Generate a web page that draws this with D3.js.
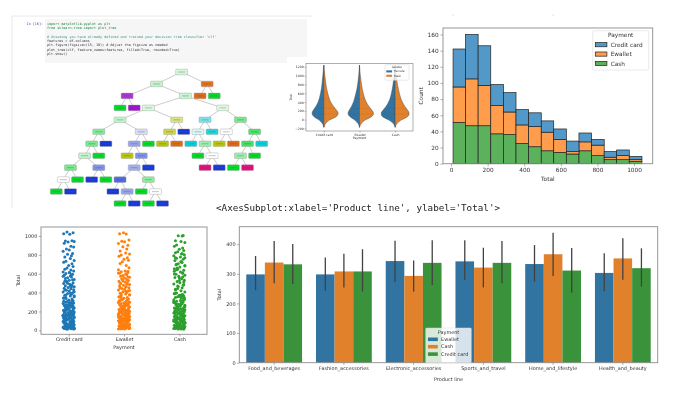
<!DOCTYPE html>
<html lang="en">
<head>
<meta charset="UTF-8">
<title>Supermarket sales plots</title>
<script src="https://cdn.jsdelivr.net/npm/d3@7"></script>
<style>
    html, body { margin: 0; padding: 0; background: #fff; }
    svg { display: block; filter: blur(0.55px); font-family: "DejaVu Sans", sans-serif; }
    .code { font-family: "DejaVu Sans Mono", monospace; }
    .domain { display: none; }
</style>
</head>
<body>
<div id="grafica"></div>
<script>
// notebook cell
const codeLines = [
    "import matplotlib.pyplot as plt",
    "from sklearn.tree import plot_tree",
    "",
    "# Assuming you have already defined and trained your decision tree classifier 'clf'",
    "features = df.columns",
    "plt.figure(figsize=(15, 10))  # Adjust the figsize as needed",
    "plot_tree(clf, feature_names=features, filled=True, rounded=True)",
    "plt.show()"
]
const outputLine = "<AxesSubplot:xlabel='Product line', ylabel='Total'>"

// decision tree
const treeParent = [-1, 0, 0, 1, 1, 2, 2, 3, 3, 4, 4, 9, 9, 10, 10, 11, 11, 12, 12, 13, 13, 14, 14, 15, 15, 16, 16, 17, 17, 19, 19, 21, 21, 22, 22, 23, 23, 25, 25, 30, 30, 33, 33, 35, 35, 38, 38, 40, 40, 41, 41, 43, 43, 44, 44, 45, 45, 51, 51, 55, 55, 56, 56, 60, 60, 62, 62]
const treeDepth = [0, 1, 1, 2, 2, 2, 2, 3, 3, 3, 3, 4, 4, 4, 4, 5, 5, 5, 5, 5, 5, 5, 5, 6, 6, 6, 6, 6, 6, 6, 6, 6, 6, 6, 6, 7, 7, 7, 7, 7, 7, 7, 7, 8, 8, 8, 8, 8, 8, 8, 8, 9, 9, 9, 9, 9, 9, 10, 10, 10, 10, 10, 10, 11, 11, 11, 11]
const treeOrder = [17.7, 14.15, 21.3, 10, 18.25, 20.3, 22.3, 9, 11, 13, 23.5, 9, 17, 21, 26, 6, 12, 16, 18, 20, 22, 24, 28, 5, 7, 11, 13, 15, 17, 19, 21, 23, 25, 27, 29, 4, 6, 10, 12, 20, 22, 26, 28, 2, 6, 11, 13, 21, 23, 25, 27, 1, 3, 5, 7, 9, 13, 0, 2, 8, 10, 12, 14, 9, 11, 13, 15]
const treeClass = ["g", "g", "o", "p", "g", "o", "g", "g", "p", "g", "g", "g", "y", "c", "g", "g", "b", "y", "b", "c", "c", "g", "g", "g", "b", "b", "g", "y", "o", "c", "g", "y", "o", "g", "c", "g", "g", "y", "b", "g", "g", "g", "g", "g", "b", "b", "b", "k", "b", "g", "k", "g", "g", "b", "g", "b", "g", "g", "b", "b", "b", "g", "g", "g", "b", "g", "b"]
const treePurity = [0.17, 0.25, 0.95, 0.85, 0.22, 1, 1, 1, 1, 0.15, 0.12, 0.25, 0.5, 0.55, 0.55, 0.5, 0.17, 0.72, 1, 0.15, 0.9, 0, 0.72, 0.55, 1, 0.45, 1, 1, 1, 1, 0.4, 1, 1, 0.75, 1, 0.25, 1, 1, 0.55, 1, 0, 0.4, 1, 0.55, 0.55, 0.4, 1, 1, 1, 1, 1, 0, 1, 1, 1, 0.75, 0.45, 1, 1, 1, 0.45, 1, 0, 1, 1, 1, 1]

// violin plot, density is relative to the widest side
const violinGenders = ["Female", "Male"]
const violinPayments = ["Credit card", "Ewallet", "Cash"]
const violinLevels = [-175, -100, 0, 50, 100, 150, 200, 300, 400, 500, 600, 700, 800, 900, 1000, 1100, 1200, 1240]
const creditFemale = [0, 0.08, 0.38, 0.62, 0.78, 0.82, 0.76, 0.56, 0.4, 0.3, 0.23, 0.17, 0.13, 0.1, 0.07, 0.04, 0.015, 0]
const creditMale = [0, 0.1, 0.45, 0.78, 0.96, 1, 0.92, 0.68, 0.48, 0.36, 0.27, 0.2, 0.15, 0.11, 0.07, 0.03, 0.01, 0]
const ewalletFemale = [0, 0.08, 0.38, 0.6, 0.76, 0.8, 0.74, 0.56, 0.42, 0.33, 0.25, 0.18, 0.13, 0.09, 0.06, 0.03, 0.01, 0]
const ewalletMale = [0, 0.1, 0.45, 0.76, 0.94, 0.98, 0.9, 0.66, 0.47, 0.35, 0.26, 0.19, 0.14, 0.1, 0.06, 0.03, 0.01, 0]
const cashFemale = [0, 0.1, 0.5, 0.8, 0.96, 0.97, 0.88, 0.64, 0.46, 0.34, 0.26, 0.2, 0.15, 0.11, 0.07, 0.03, 0, 0]
const cashMale = [0, 0.1, 0.48, 0.78, 0.95, 0.97, 0.9, 0.68, 0.5, 0.38, 0.29, 0.22, 0.16, 0.11, 0.06, 0.02, 0, 0]
const violinQuartiles = [125, 255, 470]

// stacked histogram
const histPayments = ["Credit card", "Ewallet", "Cash"]
const binEdges = [11, 79, 148, 217, 286, 355, 424, 493, 561, 630, 699, 768, 837, 905, 974, 1043]
const histCash = [51, 47, 47, 37, 36, 25, 21, 16, 14, 12, 16, 10, 5, 5, 3]
const histEwallet = [44, 58, 50, 35, 28, 23, 25, 23, 16, 3, 11, 13, 3, 5, 2]
const histCredit = [47, 55, 49, 26, 24, 19, 17, 14, 13, 13, 11, 7, 7, 7, 4]

// strip plot
const stripPayments = ["Credit card", "Ewallet", "Cash"]
const stripCredit = [1042, 1034, 1023, 1018, 950, 946, 941, 936, 922, 890, 884, 862, 851, 838, 815, 806, 790, 776, 762, 740, 731, 722, 705, 688, 676, 661, 648, 640, 628, 617, 610, 601, 593, 585, 577, 566, 558, 549, 540, 532, 521, 513, 505, 497, 488, 481, 472, 463, 455, 447, 440, 431, 424, 416, 407, 399, 391, 383, 372, 365, 356, 348, 340, 331, 322, 314, 306, 299, 295, 290, 284, 279, 272, 268, 262, 257, 251, 246, 241, 236, 231, 226, 221, 216, 212, 207, 202, 198, 193, 188, 183, 179, 175, 170, 165, 161, 157, 152, 148, 144, 139, 135, 131, 127, 122, 118, 114, 110, 105, 101, 97, 93, 88, 84, 80, 76, 72, 68, 64, 60, 56, 52, 48, 44, 41, 38, 35, 32, 29, 26, 23, 20, 18, 15, 13, 612, 574, 536, 498, 462, 428, 394, 366, 338, 308, 286, 263, 244, 224, 205, 186, 168, 150, 133, 116, 99, 82, 66, 50, 36, 24, 16, 296, 272, 248, 228, 210, 192, 174, 156, 140, 124, 108, 92, 78, 62, 46, 30, 21, 14, 590, 520, 470, 410, 375, 345, 318, 280, 255, 234, 215, 196, 178, 160, 142, 126, 112, 96, 70, 54, 42, 28, 19]
const stripEwallet = [1034, 1024, 1021, 958, 945, 938, 921, 902, 885, 862, 842, 820, 808, 798, 784, 768, 752, 742, 728, 708, 688, 664, 642, 630, 621, 612, 604, 596, 588, 581, 572, 563, 555, 546, 538, 529, 520, 512, 504, 495, 486, 478, 469, 461, 452, 444, 435, 427, 418, 409, 400, 392, 384, 374, 366, 357, 349, 340, 332, 324, 316, 308, 300, 295, 290, 285, 279, 274, 269, 263, 258, 252, 247, 242, 237, 232, 227, 222, 218, 213, 208, 203, 199, 194, 189, 184, 180, 175, 171, 166, 162, 157, 153, 148, 144, 140, 135, 131, 126, 122, 118, 113, 109, 105, 101, 97, 92, 88, 84, 80, 76, 72, 68, 64, 60, 56, 52, 49, 45, 42, 39, 36, 32, 29, 26, 23, 20, 17, 14, 608, 566, 524, 488, 450, 414, 378, 344, 312, 283, 256, 234, 216, 196, 178, 159, 142, 124, 108, 90, 74, 58, 44, 30, 18, 298, 276, 250, 226, 204, 186, 168, 150, 134, 116, 100, 86, 70, 54, 38, 24, 15, 626, 578, 540, 500, 458, 422, 386, 352, 322, 292, 266, 240, 220, 200, 182, 164, 146, 128, 112, 94, 78, 62, 47, 34, 21]
const stripCash = [1006, 1002, 1000, 950, 942, 930, 905, 892, 872, 858, 846, 834, 822, 810, 800, 790, 778, 765, 752, 740, 730, 718, 706, 694, 683, 672, 660, 648, 636, 626, 617, 606, 594, 583, 572, 560, 546, 532, 518, 505, 492, 478, 464, 450, 436, 420, 406, 396, 388, 380, 372, 364, 356, 348, 340, 332, 324, 316, 308, 300, 294, 288, 282, 276, 271, 265, 259, 253, 248, 243, 237, 232, 227, 222, 217, 212, 207, 202, 197, 192, 188, 183, 178, 173, 169, 164, 160, 155, 150, 146, 142, 137, 133, 128, 124, 120, 115, 111, 107, 103, 99, 95, 91, 87, 83, 79, 75, 71, 67, 63, 59, 55, 51, 48, 44, 40, 37, 34, 31, 28, 25, 22, 19, 16, 13, 815, 768, 724, 688, 642, 598, 566, 528, 486, 442, 392, 360, 328, 296, 268, 240, 214, 190, 171, 148, 126, 105, 85, 65, 46, 30, 17, 390, 352, 310, 278, 250, 224, 200, 176, 156, 135, 118, 97, 77, 57, 36, 20, 14, 768, 700, 652, 610, 554, 512, 470, 428, 376, 344, 304, 262, 235, 210, 186, 162, 144, 122, 101, 81, 61, 42, 26, 15]
const stripJitter = [-0.03, 0.08, -0.09, 0.02, 0.06, -0.06, 0.1, -0.01, -0.08, 0.04, 0.09, -0.04, 0.01, -0.1, 0.07, -0.02, 0.05, -0.07, 0.03, 0.1, -0.05, -0.09, 0.06, 0, 0.08, -0.03, -0.07, 0.04, 0.09, -0.1, 0.02, -0.05, 0.07, -0.08, 0.03, 0.05, -0.02, -0.06, 0.1, 0.01, -0.04]

// grouped bars
const productLines = ["Food_and_beverages", "Fashion_accessories", "Electronic_accessories", "Sports_and_travel", "Home_and_lifestyle", "Health_and_beauty"]
const barPayments = ["Ewallet", "Cash", "Credit card"]
const barEwallet = [298, 298, 343, 342, 333, 303]
const barCash = [338, 308, 293, 321, 366, 352]
const barCredit = [332, 308, 337, 337, 311, 319]
const errEwalletLow = [245, 243, 272, 279, 273, 241]
const errEwalletHigh = [360, 355, 412, 413, 397, 369]
const errCashLow = [268, 254, 240, 254, 293, 280]
const errCashHigh = [411, 368, 345, 388, 439, 420]
const errCreditLow = [266, 240, 262, 268, 236, 257]
const errCreditHigh = [401, 383, 413, 411, 387, 386]

const seabornBlue = "#3274a1", seabornOrange = "#e1812c", seabornGreen = "#3a923a"
const classColors = { g: "#00dc28", o: "#e26a14", p: "#a010d0", y: "#b8c800", c: "#00d2dc", b: "#1638d8", k: "#e0107a" }

const svg = d3.select("#grafica").append("svg").attr("width", 680).attr("height", 395)
svg.append("rect").attr("width", 680).attr("height", 395).attr("fill", "#fff")

function spines(g, b) {
    g.append("rect").attr("x", b.left).attr("y", b.top)
        .attr("width", b.right - b.left).attr("height", b.bottom - b.top)
        .attr("fill", "none").attr("stroke", "#8c8c8c").attr("stroke-width", b.line || 0.9)
}

function styleAxis(sel, size) {
    sel.selectAll("text").attr("font-size", size).attr("fill", "#333").attr("font-family", "DejaVu Sans")
    sel.selectAll("line").attr("stroke", "#666").attr("stroke-width", 0.5)
}

function drawAxes(g, b, x, y, sz, xLabel, yLabel, yLabelX, xLabelY, yTicks, xTicks) {
    const tick = sz * 0.45
    const ax = d3.axisBottom(x).tickSize(tick).tickPadding(sz * 0.3)
    if (xTicks) ax.tickValues(xTicks).tickFormat(d3.format("d"))
    g.append("g").attr("transform", "translate(0," + b.bottom + ")").call(ax).call(styleAxis, sz)
    g.append("g").attr("transform", "translate(" + b.left + ",0)")
        .call(d3.axisLeft(y).tickValues(yTicks).tickFormat(d3.format("d")).tickSize(tick).tickPadding(sz * 0.3)).call(styleAxis, sz)
    g.append("text").attr("x", (b.left + b.right) / 2).attr("y", xLabelY).attr("text-anchor", "middle")
        .attr("font-size", sz).attr("fill", "#333").text(xLabel)
    g.append("text").attr("transform", "translate(" + yLabelX + "," + (b.top + b.bottom) / 2 + ") rotate(-90)")
        .attr("text-anchor", "middle").attr("font-size", sz).attr("fill", "#333").text(yLabel)
}

function drawLegend(g, box, title, names, colors, sz, edge, rowGap, alpha) {
    g.append("rect").attr("x", box.x).attr("y", box.y).attr("width", box.w).attr("height", box.h).attr("rx", 1)
        .attr("fill", "#fff").attr("fill-opacity", alpha).attr("stroke", "#d5d5d5").attr("stroke-width", 0.5)
    g.append("text").attr("x", box.x + box.w / 2).attr("y", box.y + sz * 1.15).attr("text-anchor", "middle")
        .attr("font-size", sz).attr("fill", "#333").text(title)
    names.forEach(function (n, i) {
        const ry = box.y + sz * 1.15 + rowGap * (i + 1)
        g.append("rect").attr("x", box.x + sz * 0.45).attr("y", ry - sz * 0.72)
            .attr("width", sz * 2).attr("height", sz * 0.72)
            .attr("fill", colors[i]).attr("stroke", edge).attr("stroke-width", edge === "none" ? 0 : 0.7)
        g.append("text").attr("x", box.x + sz * 3.1).attr("y", ry).attr("font-size", sz).attr("fill", "#333").text(n)
    })
}

// ---- notebook cell and decision tree
function drawNotebook() {
    const g = svg.append("g")
    g.append("path").attr("d", "M12,208V16H312").attr("fill", "none").attr("stroke", "#e2e2e2").attr("stroke-width", 0.8)
    g.append("rect").attr("x", 45).attr("y", 19).attr("width", 262).attr("height", 44).attr("fill", "#f6f6f6")
    g.append("text").attr("class", "code").attr("x", 43).attr("y", 25).attr("text-anchor", "end")
        .attr("font-size", 3.4).attr("fill", "#303f9f").text("In [16]:")
    const lineY = d3.scaleLinear().domain([0, 7]).range([25, 55])
    codeLines.forEach(function (s, i) {
        const col = s.charAt(0) === "#" ? "#3f8f8f" : (i < 2 ? "#1a7f3c" : "#333")
        g.append("text").attr("class", "code").attr("x", 47).attr("y", lineY(i))
            .attr("font-size", 3.4).attr("fill", col).text(s)
    })
    g.append("text").attr("class", "code").attr("x", 216).attr("y", 211)
        .attr("font-size", 9.25).attr("fill", "#222").text(outputLine)

    const x = d3.scaleLinear().domain([0, 29]).range([56.3, 261.7])
    const y = d3.scaleLinear().domain([0, 11]).range([72, 203.5])
    const w = 12, h = 5.6
    const t = g.append("g")
    treeParent.forEach(function (p, i) {
        if (p < 0) return
        t.append("line").attr("x1", x(treeOrder[p])).attr("y1", y(treeDepth[p]))
            .attr("x2", x(treeOrder[i])).attr("y2", y(treeDepth[i]))
            .attr("stroke", "#aaa").attr("stroke-width", 0.6)
    })
    treeParent.forEach(function (p, i) {
        const fill = d3.interpolateRgb("#fff", classColors[treeClass[i]])(treePurity[i])
        t.append("rect").attr("x", x(treeOrder[i]) - w / 2).attr("y", y(treeDepth[i]) - h / 2)
            .attr("width", w).attr("height", h).attr("rx", 0.8)
            .attr("fill", fill).attr("stroke", "#9a9a9a").attr("stroke-width", 0.4)
        // the node text is not readable at this size, leave a grey smear like the picture
        t.append("line").attr("x1", x(treeOrder[i]) - 3.5).attr("x2", x(treeOrder[i]) + 3.5)
            .attr("y1", y(treeDepth[i])).attr("y2", y(treeDepth[i]))
            .attr("stroke", "#555").attr("stroke-opacity", 0.3).attr("stroke-width", 1.2)
    })
}

// ---- violins
function drawViolins() {
    const g = svg.append("g")
    g.append("rect").attr("x", 287).attr("y", 57).attr("width", 133).attr("height", 95).attr("fill", "#fff")
    const b = { left: 306, right: 413, top: 63.5, bottom: 131, line: 0.7 }
    const x = d3.scalePoint().domain(violinPayments).range([b.left, b.right]).padding(0.5)
    const y = d3.scaleLinear().domain([-259, 1277]).range([b.bottom, b.top])
    const w = d3.scaleLinear().domain([0, 1]).range([0, 14.3])
    const sides = [[creditFemale, creditMale], [ewalletFemale, ewalletMale], [cashFemale, cashMale]]
    violinPayments.forEach(function (name, i) {
        sides[i].forEach(function (dens, s) {
            const dir = s === 0 ? -1 : 1
            const area = d3.area().curve(d3.curveMonotoneY)
                .y(function (d, k) { return y(violinLevels[k]) })
                .x0(x(name)).x1(function (d) { return x(name) + dir * w(d) })
            g.append("path").attr("d", area(dens))
                .attr("fill", s === 0 ? seabornBlue : seabornOrange)
                .attr("stroke", "#444").attr("stroke-width", 0.45)
            violinQuartiles.forEach(function (q) {
                const half = d3.scaleLinear().domain(violinLevels).range(dens)(q)
                g.append("line").attr("x1", x(name)).attr("x2", x(name) + dir * w(half))
                    .attr("y1", y(q)).attr("y2", y(q))
                    .attr("stroke", "#444").attr("stroke-opacity", 0.5).attr("stroke-width", 0.3).attr("stroke-dasharray", "1,1")
            })
        })
    })
    spines(g, b)
    drawAxes(g, b, x, y, 3.1, "Payment", "Total", 292, 139, d3.range(-200, 1201, 200))
    drawLegend(g, { x: 385, y: 64.7, w: 24, h: 15.5 }, "Gender", violinGenders, [seabornBlue, seabornOrange], 2.9, "none", 4.4, 0.8)
}

// ---- stacked histogram
function drawHistogram() {
    const g = svg.append("g")
    const b = { left: 443, right: 652.7, top: 28, bottom: 163.7 }
    const x = d3.scaleLinear().domain([-44, 1102]).range([b.left, b.right])
    const y = d3.scaleLinear().domain([0, 168]).range([b.bottom, b.top])
    const rows = histCash.map(function (d, i) { return { Cash: d, Ewallet: histEwallet[i], Credit: histCredit[i] } })
    const stacked = d3.stack().keys(["Cash", "Ewallet", "Credit"])(rows)
    const colors = { Cash: "#5cb25c", Ewallet: "#ff9d4d", Credit: "#5299c9" }
    stacked.forEach(function (layer) {
        g.append("g").selectAll("rect").data(layer).enter().append("rect")
            .attr("x", function (d, i) { return x(binEdges[i]) })
            .attr("width", function (d, i) { return x(binEdges[i + 1]) - x(binEdges[i]) })
            .attr("y", function (d) { return y(d[1]) })
            .attr("height", function (d) { return y(d[0]) - y(d[1]) })
            .attr("fill", colors[layer.key]).attr("stroke", "#222").attr("stroke-width", 0.7)
    })
    spines(g, b)
    drawAxes(g, b, x, y, 5.8, "Total", "Count", 423, 181, d3.range(0, 161, 20), d3.range(0, 1001, 200))
    drawLegend(g, { x: 592.7, y: 30.7, w: 56, h: 39.3 }, "Payment", histPayments, [colors.Credit, colors.Ewallet, colors.Cash], 5.8, "#222", 9.4, 0.85)
    // two stray dots above the plot
    g.selectAll(".stray").data([453, 553]).enter().append("circle")
        .attr("cx", function (d) { return d }).attr("cy", 15).attr("r", 0.5).attr("fill", "#bbb")
}

// ---- strip plot
function drawStrip() {
    const g = svg.append("g")
    const b = { left: 41, right: 207, top: 227, bottom: 334.3 }
    const x = d3.scalePoint().domain(stripPayments).range([b.left, b.right]).padding(0.5)
    const y = d3.scaleLinear().domain([-42, 1095]).range([b.bottom, b.top])
    const sets = [stripCredit, stripEwallet, stripCash]
    const cols = ["#1f77b4", "#ff7f0e", "#2ca02c"]
    sets.forEach(function (vals, s) {
        g.append("g").selectAll("circle").data(vals).enter().append("circle")
            .attr("cx", function (d, i) { return x(stripPayments[s]) + stripJitter[(i + s * 7) % stripJitter.length] * x.step() })
            .attr("cy", function (d) { return y(d) })
            .attr("r", 1.5).attr("fill", cols[s])
    })
    spines(g, b)
    drawAxes(g, b, x, y, 4.9, "Payment", "Total", 20, 349, d3.range(0, 1001, 200))
}

// ---- grouped bars
function drawBars() {
    const g = svg.append("g")
    const b = { left: 239.3, right: 657.7, top: 226.7, bottom: 362.7 }
    const x = d3.scaleBand().domain(productLines).range([b.left, b.right])
    const inner = d3.scaleBand().domain(barPayments).range([x.bandwidth() * 0.1, x.bandwidth() * 0.9])
    const y = d3.scaleLinear().domain([0, 459]).range([b.bottom, b.top])
    const vals = [barEwallet, barCash, barCredit]
    const lows = [errEwalletLow, errCashLow, errCreditLow]
    const highs = [errEwalletHigh, errCashHigh, errCreditHigh]
    const cols = [seabornBlue, seabornOrange, seabornGreen]
    barPayments.forEach(function (pay, s) {
        const gs = g.append("g")
        gs.selectAll("rect").data(vals[s]).enter().append("rect")
            .attr("x", function (d, i) { return x(productLines[i]) + inner(pay) })
            .attr("width", inner.bandwidth())
            .attr("y", function (d) { return y(d) })
            .attr("height", function (d) { return y(0) - y(d) })
            .attr("fill", cols[s])
    })
    barPayments.forEach(function (pay, s) {
        g.append("g").selectAll("line").data(vals[s]).enter().append("line")
            .attr("x1", function (d, i) { return x(productLines[i]) + inner(pay) + inner.bandwidth() / 2 })
            .attr("x2", function (d, i) { return x(productLines[i]) + inner(pay) + inner.bandwidth() / 2 })
            .attr("y1", function (d, i) { return y(lows[s][i]) })
            .attr("y2", function (d, i) { return y(highs[s][i]) })
            .attr("stroke", "#424242").attr("stroke-width", 1.3)
    })
    spines(g, b)
    drawAxes(g, b, x, y, 4.95, "Product line", "Total", 221, 381, d3.range(0, 401, 100))
    drawLegend(g, { x: 425.7, y: 328, w: 45.6, h: 34.7 }, "Payment", barPayments, cols, 4.95, "none", 7.4, 0.8)
}

drawNotebook()
drawViolins()
drawHistogram()
drawStrip()
drawBars()
</script>
</body>
</html>
